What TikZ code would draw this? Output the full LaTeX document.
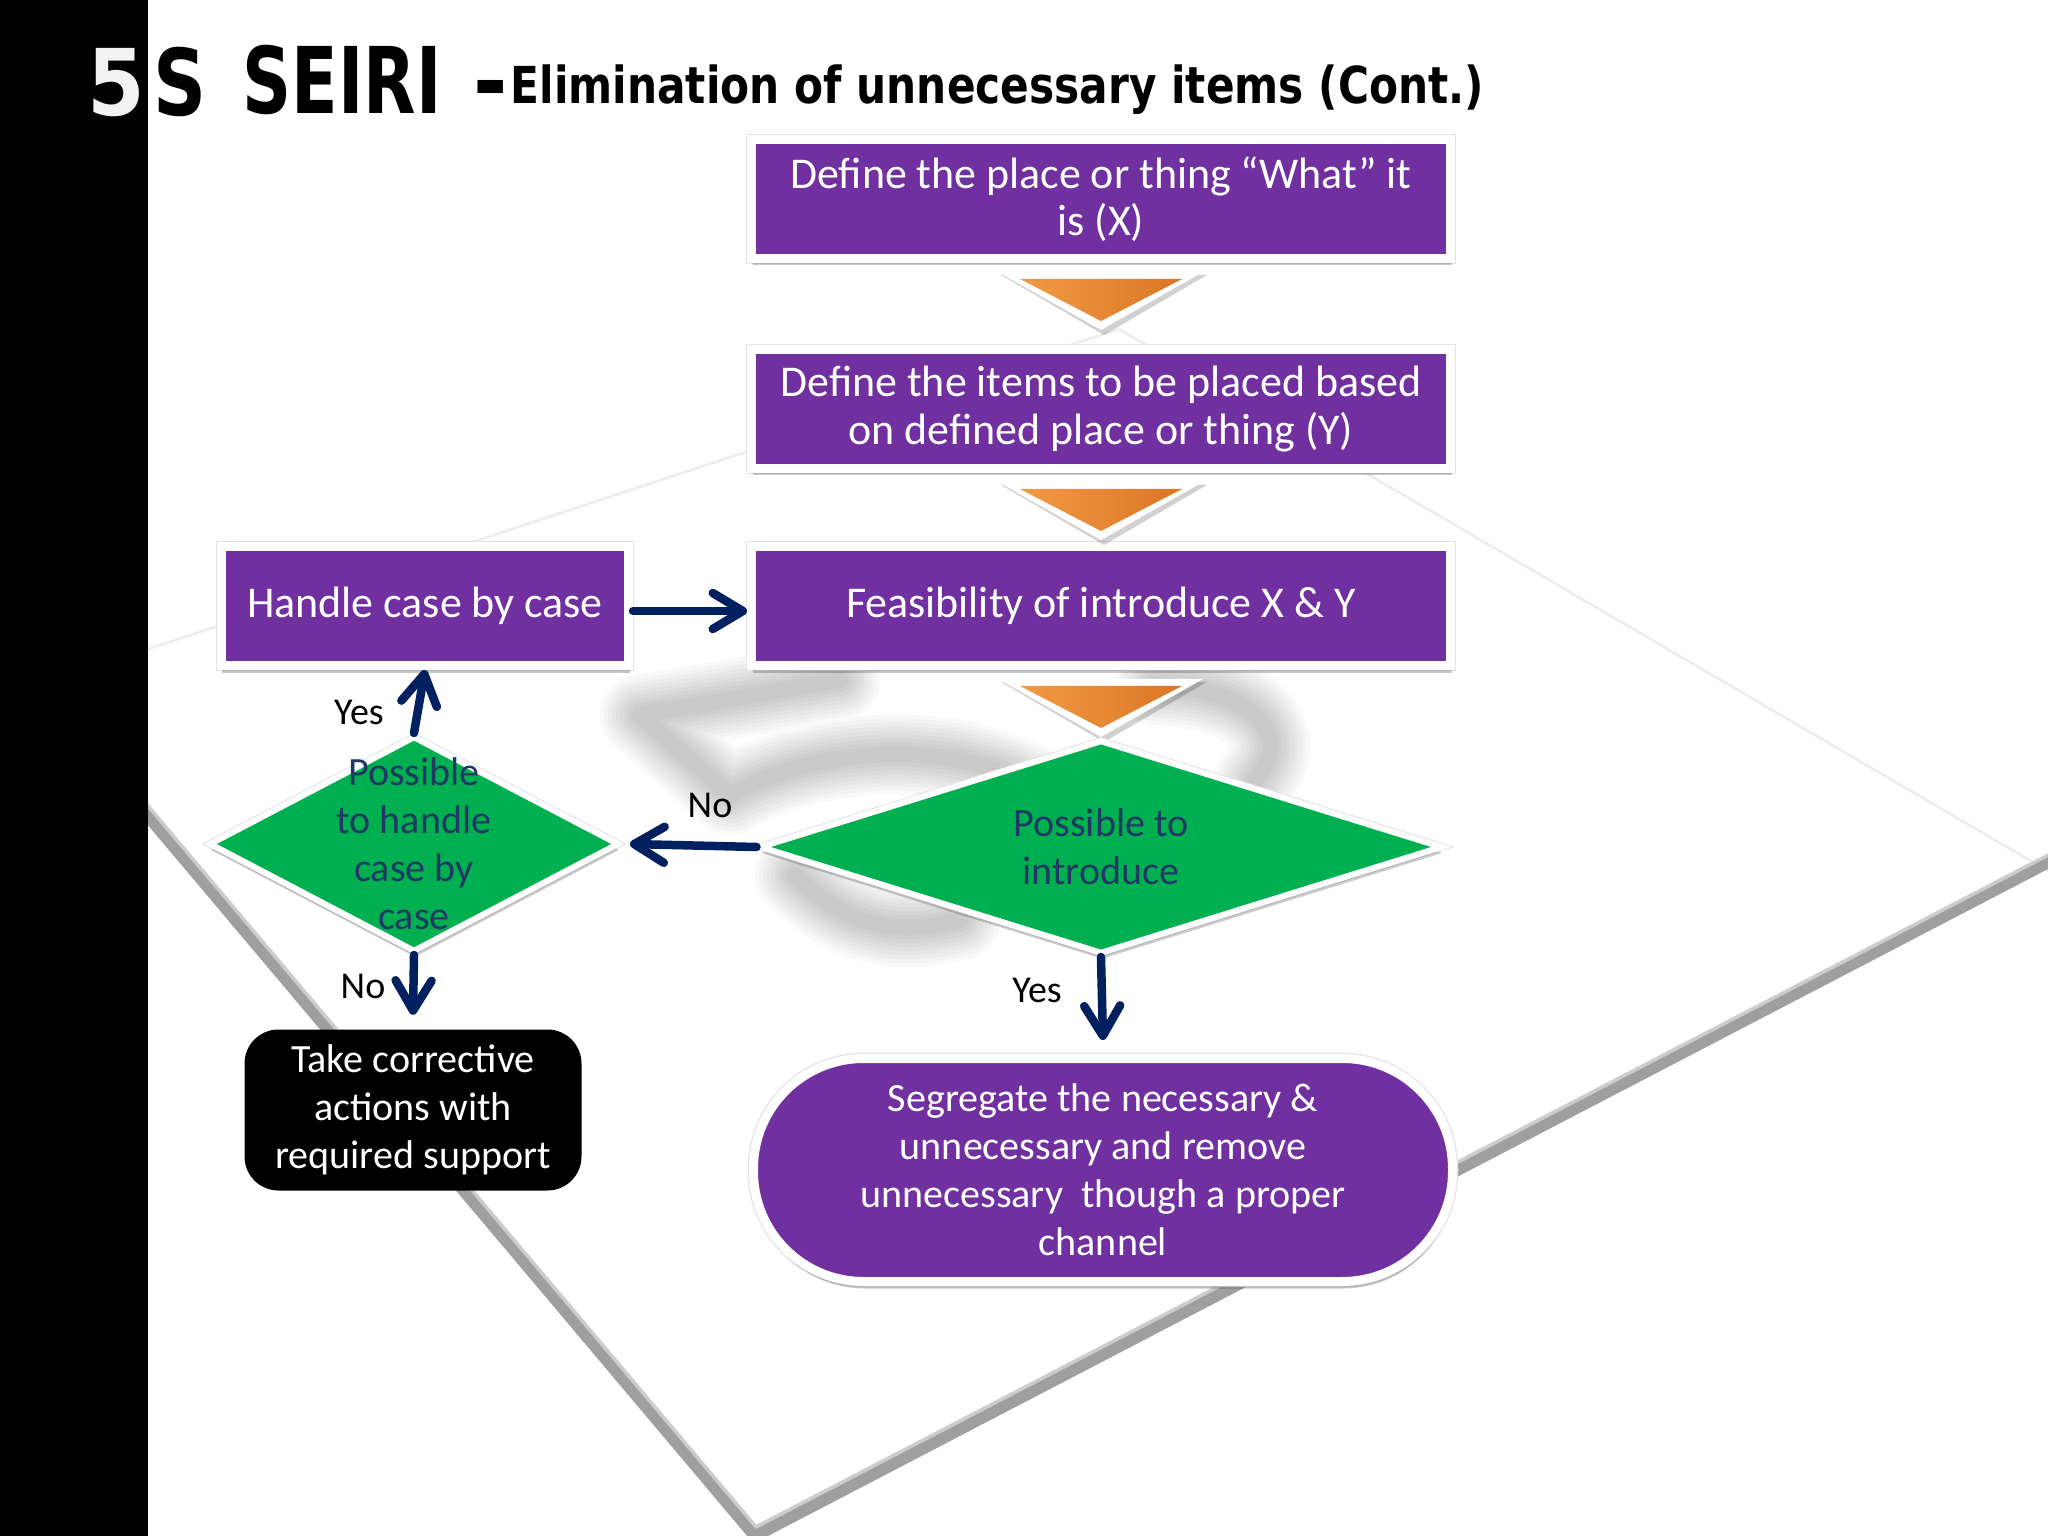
\documentclass[tikz,border=0pt]{standalone}
\usepackage{fontspec}
\setmainfont{Carlito}
\newfontfamily\titlefont{DejaVu Sans}
\usetikzlibrary{shapes.geometric,arrows.meta,shadows}
\definecolor{boxpurple}{HTML}{7030A0}
\definecolor{dgreen}{HTML}{00B050}
\definecolor{navy}{HTML}{002060}
\definecolor{dtext}{HTML}{1F3864}
\definecolor{orangeL}{HTML}{F29A45}
\definecolor{orangeR}{HTML}{DA7624}
\tikzset{
  ttl/.style={inner sep=0pt, font=\titlefont\bfseries\fontsize{26.2pt}{30pt}\selectfont},
  subttl/.style={inner sep=0pt, font=\titlefont\bfseries\fontsize{14.5pt}{17pt}\selectfont},
  pbox/.style={rectangle, fill=boxpurple, draw=white, line width=0.09cm, text=white,
    font=\fontsize{12.5pt}{13.4pt}\selectfont, align=center, inner sep=0pt,
    preaction={draw=gray!22, line width=0.115cm},
    drop shadow={shadow xshift=0.01cm, shadow yshift=-0.07cm, fill=black, opacity=0.22}},
  dia/.style={diamond, fill=dgreen, draw=white, line width=0.06cm, inner sep=0pt,
    preaction={draw=gray!22, line width=0.08cm}},
  diatext/.style={text=dtext, font=\fontsize{11.4pt}{13.7pt}\selectfont, align=center, inner sep=0pt},
  blk/.style={rectangle, rounded corners=0.34cm, fill=black, text=white,
    font=\fontsize{11.4pt}{13.7pt}\selectfont, align=center, inner sep=0pt},
  lbl/.style={font=\fontsize{10.8pt}{13pt}\selectfont, text=black, inner sep=0pt},
  arr/.style={draw=navy, line width=0.085cm, line cap=round,
    -{Straight Barb[round, length=0.3cm, width=0.36cm]}},
  blur/.style={draw=black, line cap=round, line join=round},
  downtri/.pic={
    \fill[black, opacity=0.18] (-1.00,-0.12) -- (1.06,-0.12) -- (0.03,-0.72) -- cycle;
    \fill[white] (-1.03,-0.09) -- (1.02,-0.09) -- (0,-0.67) -- cycle;
    \shade[left color=orangeL, right color=orangeR] (-0.81,-0.16) -- (0.81,-0.16) -- (0,-0.58) -- cycle;
  }
}
\begin{document}
\begin{tikzpicture}[x=1cm,y=1cm]
\useasboundingbox (0,0) rectangle (20.48,-15.36);
\fill[white] (0,0) rectangle (20.48,-15.36);
% board edges (background)
\draw[line width=0.025cm, gray!14] (1.48,-6.49) -- (11.19,-3.29) -- (20.48,-8.71);
\draw[line width=0.12cm, gray!75, line join=round] (1.40,-8.065) -- (7.55,-15.36) -- (20.60,-8.56);
\draw[line width=0.035cm, gray!40, line join=round] (1.43,-8.00) -- (7.56,-15.27) -- (20.60,-8.49);
% blurred 5S relief in the background
\foreach \w in {0.80,0.72,0.64,0.56,0.48,0.40,0.32,0.24,0.16} {
  \draw[blur, line width=\w cm, opacity=0.025]
    (8.40,-6.80) -- (6.40,-7.15) -- (7.30,-7.95) .. controls (8.3,-7.40) and (9.6,-7.45) .. (10.3,-7.85);
  \draw[blur, line width=\w cm, opacity=0.025]
    (7.95,-8.75) .. controls (8.5,-9.30) and (9.0,-9.35) .. (9.6,-9.20);
  \draw[blur, line width=\w cm, opacity=0.025]
    (11.55,-6.85) .. controls (12.55,-6.90) and (12.95,-7.35) .. (12.55,-7.80);
}
% black bar
\fill[black] (0,0) rectangle (1.48,-15.36);
% title
\node[ttl, anchor=base west, text=gray!10] (t5) at (0.87,-1.16) {\scalebox{0.9}[1]{5}};
\node[ttl, anchor=base west] (ts) at (1.53,-1.16) {\scalebox{0.8}[1]{S}};
\node[ttl, anchor=base west] (tseiri) at (2.42,-1.14) {\scalebox{0.74}[1]{SEIRI}};
\node[ttl, anchor=base west] (tdash) at (4.73,-1.14) {\scalebox{0.9}[1]{-}};
\node[subttl, anchor=base west] (tsub) at (5.10,-1.035) {\scalebox{0.83}[1]{Elimination of unnecessary items (Cont.)}};
% boxes
\node[pbox, minimum width=6.99cm, minimum height=1.19cm] (b1) at (11.01,-1.99)
  {Define the place or thing “What” it\\is (X)};
\node[pbox, minimum width=6.99cm, minimum height=1.19cm] (b2) at (11.01,-4.09)
  {Define the items to be placed based\\on defined place or thing (Y)};
\node[pbox, minimum width=6.99cm, minimum height=1.19cm] (b3) at (11.01,-6.06)
  {Feasibility of introduce X \& Y};
\node[pbox, minimum width=4.07cm, minimum height=1.19cm] (hc) at (4.25,-6.06)
  {Handle case by case};
\pic at (b1.south) {downtri};
\pic at (b2.south) {downtri};
\pic at (b3.south) {downtri};
% diamonds
\node[dia, minimum width=6.83cm, minimum height=2.14cm,
  drop shadow={shadow xshift=0.01cm, shadow yshift=-0.06cm, fill=black, opacity=0.2}] (d1) at (11.01,-8.47) {};
\node[diatext] (d1t) at (d1) {Possible to\\introduce};
\node[dia, minimum width=4.10cm, minimum height=2.16cm,
  drop shadow={shadow xshift=0.01cm, shadow yshift=-0.06cm, fill=black, opacity=0.2}] (d2) at (4.14,-8.44) {};
\node[diatext] (d2t) at (d2) {Possible\\to handle\\case by\\case};
% end boxes
\node[blk, minimum width=3.37cm, minimum height=1.61cm] (tc) at (4.13,-11.10)
  {Take corrective\\actions with\\required support};
\node[pbox, rounded corners=1.1cm, minimum width=6.99cm, minimum height=2.23cm,
  font=\fontsize{11.4pt}{13.7pt}\selectfont] (seg) at (11.03,-11.70)
  {Segregate the necessary \&\\unnecessary and remove\\unnecessary\ \ though a proper\\channel};
% connectors
\draw[arr] ([yshift=-0.05cm]hc.east) -- ([yshift=-0.05cm]b3.west);
\draw[arr] (d1.west) -- ([xshift=0.08cm]d2.east);
\draw[arr] (d2.north) -- (hc.south);
\draw[arr] (d2.south) -- ([yshift=0.14cm]tc.north);
\draw[arr] (d1.south) -- ([yshift=0.14cm]seg.north);
% labels
\node[lbl] (lno1) at (7.10,-8.05) {No};
\node[lbl] (lyes1) at (3.59,-7.12) {Yes};
\node[lbl] (lno2) at (3.63,-9.86) {No};
\node[lbl] (lyes2) at (10.37,-9.90) {Yes};
\end{tikzpicture}
\end{document}
